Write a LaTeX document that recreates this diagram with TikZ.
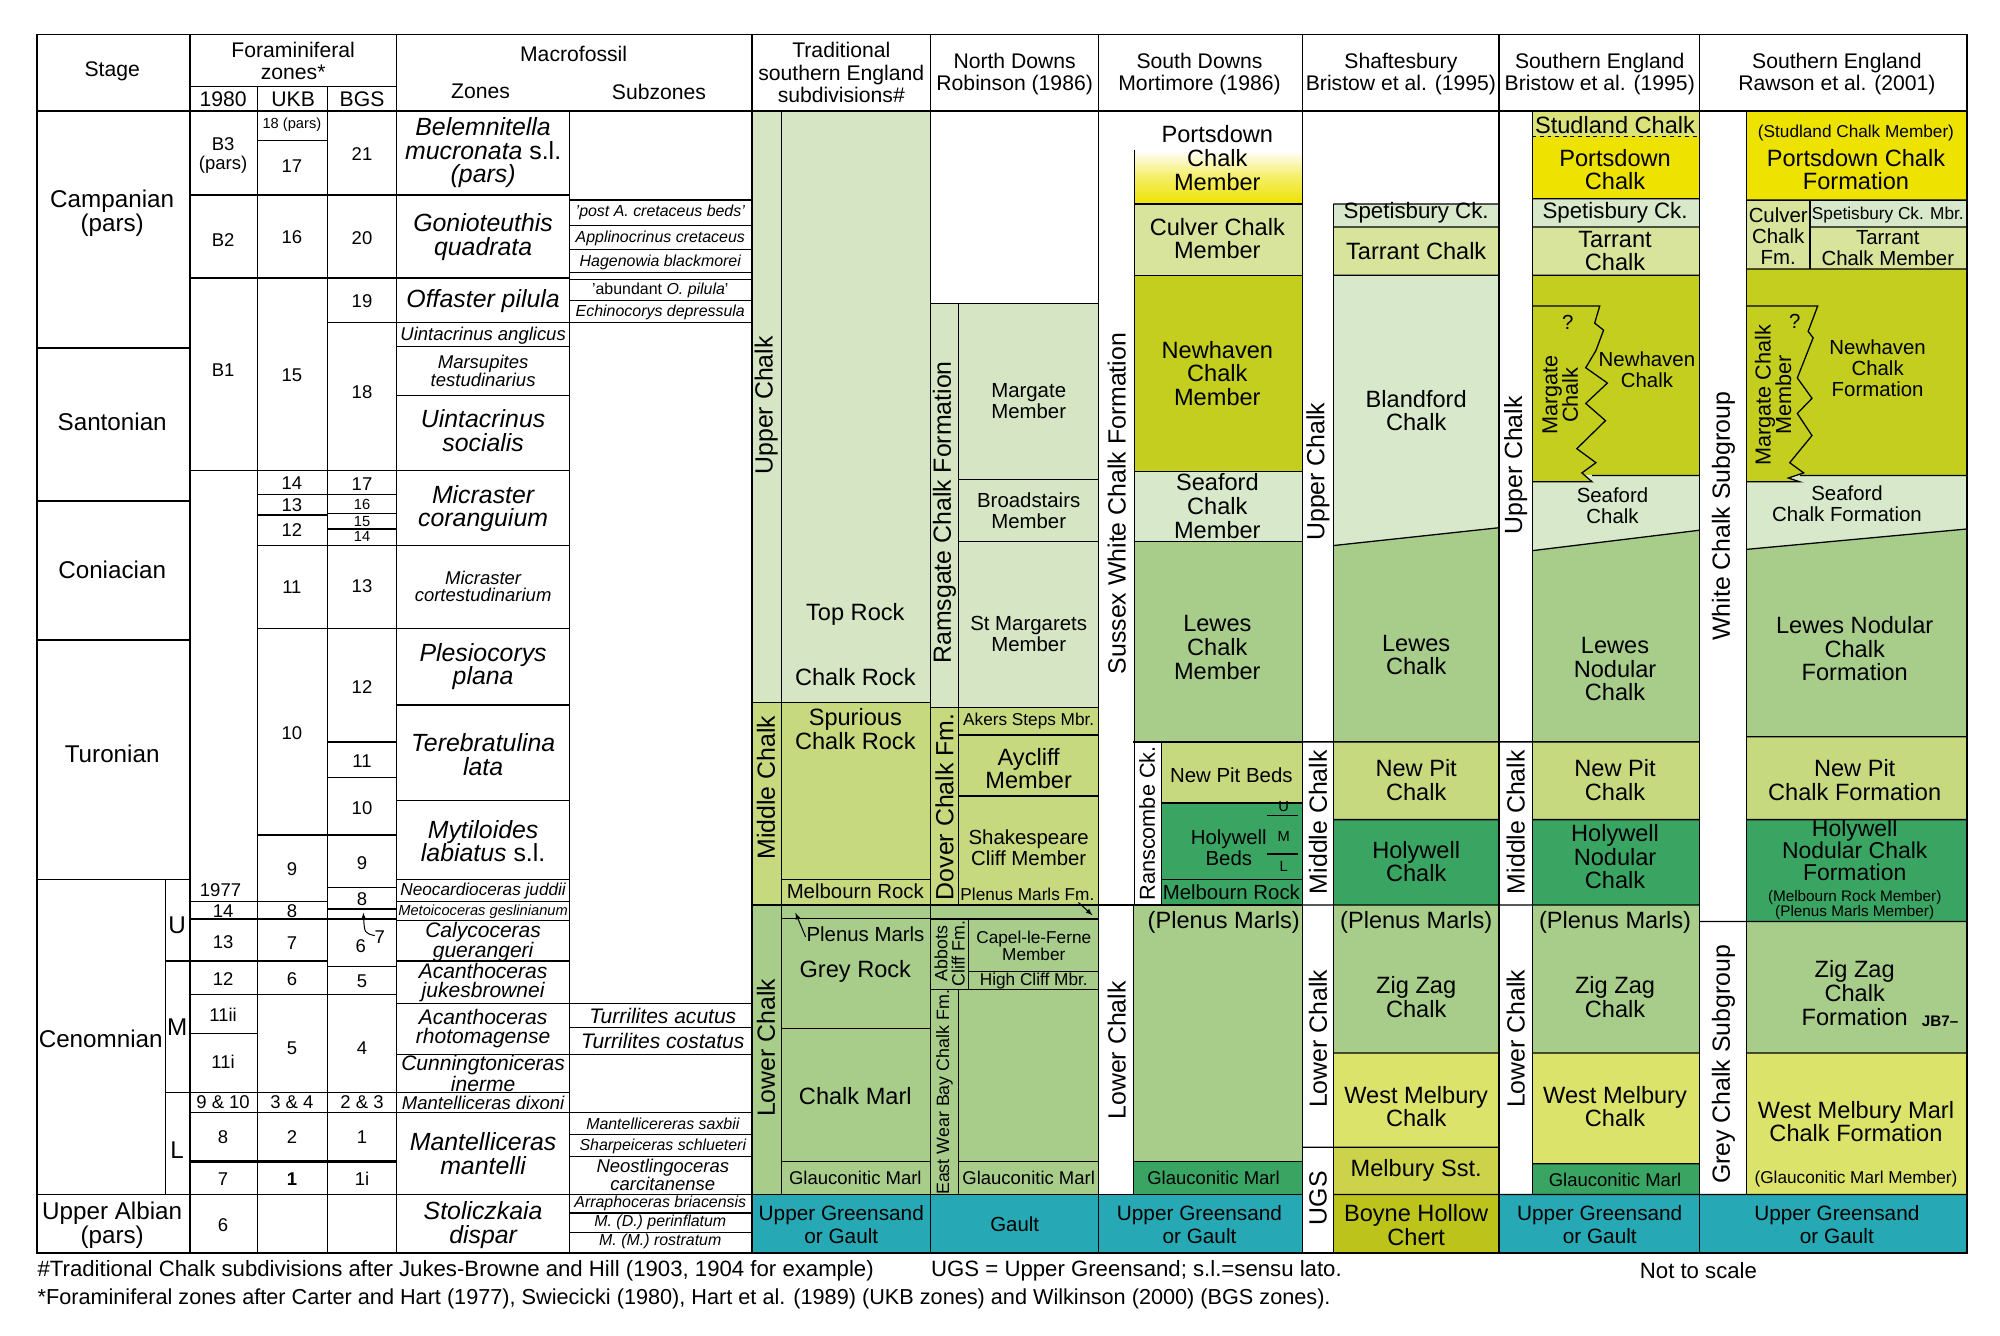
\documentclass[tikz,border=0pt]{standalone}
\usepackage{fontspec}
\setmainfont{Liberation Sans}
\definecolor{pale}{HTML}{D6E5C3}
\definecolor{midg}{HTML}{C7D97F}
\definecolor{lowg}{HTML}{A8CD8B}
\definecolor{darkg}{HTML}{3AA563}
\definecolor{teal}{HTML}{27A9B5}
\definecolor{olive}{HTML}{C3CE1F}
\definecolor{yel}{HTML}{EEE200}
\definecolor{paley}{HTML}{D8E39B}
\definecolor{lightg}{HTML}{D8E8CA}
\definecolor{wm}{HTML}{DCE36B}
\definecolor{mss}{HTML}{CCD34A}
\definecolor{boyne}{HTML}{BCC41C}
\definecolor{stud}{HTML}{DCE27A}
\begin{document}
\begin{tikzpicture}[x=1pt,y=-1pt,line width=1pt,
 L/.style={font=\fontsize{18.5}{18.5}\selectfont,align=center,inner sep=0},
 G/.style={font=\fontsize{16.3}{18}\selectfont,align=center,inner sep=0},
 H/.style={font=\fontsize{16.6}{17.5}\selectfont,align=center,inner sep=0},
 ST/.style={font=\fontsize{19}{19}\selectfont,align=center,inner sep=0},
 M/.style={font=\fontsize{16}{16.5}\selectfont,align=center,inner sep=0},
 F/.style={font=\fontsize{14.5}{15}\selectfont,align=center,inner sep=0},
 S/.style={font=\fontsize{13.5}{14}\selectfont,align=center,inner sep=0},
 T/.style={font=\fontsize{11.5}{12}\selectfont,align=center,inner sep=0},
 Z/.style={font=\fontsize{19.5}{18.5}\selectfont\itshape,align=center,inner sep=0},
 ZM/.style={font=\fontsize{16.5}{15}\selectfont\itshape,align=center,inner sep=0},
 ZS/.style={font=\fontsize{14.5}{14}\selectfont\itshape,align=center,inner sep=0},
 ZT/.style={font=\fontsize{12.5}{12}\selectfont\itshape,align=center,inner sep=0},
 N/.style={font=\fontsize{17.4}{18}\selectfont,inner sep=0},
 R/.style={rotate=90,inner sep=0,font=\fontsize{19.5}{19}\selectfont,align=center},
 RS/.style={rotate=90,inner sep=0,font=\fontsize{14}{13.5}\selectfont,align=center},
 thick line/.style={line width=2.2pt}]
\useasboundingbox (0,0) rectangle (1569,1048);
\fill[white] (0,0) rectangle (1569,1048);
% ---------- fills
\fill[pale] (590,87) rectangle (730,551);
\fill[midg] (590,551) rectangle (730,710);
\fill[lowg] (590,710) rectangle (730,937);
\fill[teal] (590,937) rectangle (730,983);
\fill[pale] (730,238) rectangle (862,555);
\fill[midg] (730,555) rectangle (862,710);
\fill[lowg] (730,710) rectangle (862,937);
\fill[teal] (730,937) rectangle (862,983);
\shade[top color=white,bottom color=yel,middle color=yel!60] (890,118) rectangle (1022,160);
\fill[paley] (890,160) rectangle (1022,216);
\fill[olive] (890,216) rectangle (1022,370);
\fill[lightg] (890,370) rectangle (1022,425);
\fill[lowg] (890,425) rectangle (1022,582);
\fill[midg] (911,582) rectangle (1022,630);
\fill[darkg] (911,630) rectangle (1022,710);
\fill[lowg] (889,710) rectangle (1022,911);
\fill[darkg] (889,911) rectangle (1022,937);
\fill[teal] (862,937) rectangle (1022,983);
\fill[lightg] (1046,160) rectangle (1176,178);
\fill[paley] (1046,178) rectangle (1176,216);
\fill[lightg] (1046,216) -- (1176,216) -- (1176,414) -- (1046,428) -- cycle;
\fill[lowg] (1046,428) -- (1176,414) -- (1176,582) -- (1046,582) -- cycle;
\fill[midg] (1046,582) rectangle (1176,643);
\fill[darkg] (1046,643) rectangle (1176,710);
\fill[lowg] (1046,710) rectangle (1176,826);
\fill[wm] (1046,826) rectangle (1176,900);
\fill[mss] (1046,900) rectangle (1176,937);
\fill[boyne] (1046,937) rectangle (1176,983);
\fill[stud] (1202,87) rectangle (1333,107);
\fill[yel] (1202,107) rectangle (1333,156);
\fill[lightg] (1202,156) rectangle (1333,178);
\fill[paley] (1202,178) rectangle (1333,216);
\fill[olive] (1202,216) rectangle (1333,373);
\fill[lightg] (1202,373) -- (1333,373) -- (1333,416) -- (1202,432) -- cycle;
\fill[lowg] (1202,432) -- (1333,416) -- (1333,582) -- (1202,582) -- cycle;
\fill[midg] (1202,582) rectangle (1333,643);
\fill[darkg] (1202,643) rectangle (1333,710);
\fill[lowg] (1202,710) rectangle (1333,826);
\fill[wm] (1202,826) rectangle (1333,913);
\fill[darkg] (1202,913) rectangle (1333,937);
\fill[teal] (1176,937) rectangle (1333,983);
\fill[yel] (1370,87) rectangle (1543,157);
\fill[paley] (1370,157) rectangle (1420,211);
\fill[lightg] (1420,157) rectangle (1543,178);
\fill[paley] (1420,178) rectangle (1543,211);
\fill[olive] (1370,211) rectangle (1543,373);
\fill[lightg] (1370,373) -- (1543,373) -- (1543,415) -- (1370,431) -- cycle;
\fill[lowg] (1370,431) -- (1543,415) -- (1543,578) -- (1370,578) -- cycle;
\fill[midg] (1370,578) rectangle (1543,643);
\fill[darkg] (1370,643) rectangle (1543,723);
\fill[lowg] (1370,723) rectangle (1543,826);
\fill[wm] (1370,826) rectangle (1543,937);
\fill[teal] (1333,937) rectangle (1543,983);
\draw[fill=olive] (1202,240) -- (1255,240) -- (1251,253.5) -- (1258,259) -- (1252,275) -- (1244,288.5) -- (1261,300.5) -- (1244,316.5) -- (1259.5,330) -- (1237,352) -- (1252,363) -- (1241,371) -- (1249,378) -- (1202,378);
\draw[fill=olive] (1370,240) -- (1426,240) -- (1418.5,260) -- (1422.4,265) -- (1410,296.5) -- (1421.5,312.5) -- (1410,324.4) -- (1421.5,341.7) -- (1404,363) -- (1415,371) -- (1403,375) -- (1412,378) -- (1370,378);
% ---------- lines
\draw[line width=1.3pt] (29,27) rectangle (1543,983);
\foreach \x in {149,311,590,730,862,1022,1176,1333} \draw (\x,27) -- (\x,983);
\foreach \x in {202,257} \draw (\x,68) -- (\x,983);
\draw (149,68) -- (311,68);
\draw (447,87) -- (447,983);
\draw (29,87) -- (1543,87);
\foreach \y in {273,393,502,690,937} \draw (29,\y) -- (149,\y);
\draw (130,690) -- (130,937);
\foreach \y in {754,857} \draw (130,\y) -- (149,\y);
\foreach \y in {153,218,369,707,721,754,780,811,857,873,937} \draw (149,\y) -- (202,\y);
\foreach \y in {110,153,218,369,388,404,428,493,655,707,721,754,780,857,873,937} \draw (202,\y) -- (257,\y);
\foreach \y in {153,218,253,369,388,403,415,428,493,582,610,655,696,713,721,758,780,857,873,937} \draw (257,\y) -- (311,\y);
\draw[thick line] (149,911) -- (311,911);
\foreach \y in {153,218,253,272,310,369,428,493,553,628,690,707,722,754,787,827,857,873,937} \draw (311,\y) -- (447,\y);
\draw (447,157) rectangle (590,214);
\draw (447,177) -- (590,177) (447,196) -- (590,196);
\draw (447,219) rectangle (590,253);
\draw (447,236) -- (590,236);
\draw (447,787) rectangle (590,827);
\draw (447,806) -- (590,806);
\foreach \y in {873,890,907,937,951.5,967} \draw (447,\y) -- (590,\y);
\draw (613,87) -- (613,937);
\draw (590,551) -- (730,551) (613,690) -- (730,690) (590,710) -- (730,710) (613,720.5) -- (730,720.5) (613,807) -- (730,807) (613,911) -- (730,911) (590,937) -- (730,937);
\draw (730,238) -- (862,238) (752,376) -- (862,376) (752,425) -- (862,425) (730,555) -- (862,555) (752,576.6) -- (862,576.6) (752,624.5) -- (862,624.5) (730,710) -- (862,710) (730,721) -- (862,721) (760,762) -- (862,762) (730,776) -- (862,776) (752,911) -- (862,911) (730,937) -- (862,937);
\draw (752,238) -- (752,710) (760,721) -- (760,776) (752,776) -- (752,937);
\draw (890,118) -- (890,710) (889,710) -- (889,937) (911,582) -- (911,710);
\draw (890,160) -- (1022,160) (890,216) -- (1022,216) (890,370) -- (1022,370) (890,425) -- (1022,425) (889,582) -- (1022,582) (911,630) -- (1022,630) (911,690) -- (1022,690) (862,710) -- (1022,710) (889,911) -- (1022,911) (862,937) -- (1022,937);
\draw (994,640) -- (1018,640) (994,670) -- (1018,670);
\draw (1046,160) -- (1046,983);
\draw (1046,160) -- (1176,160) (1046,178) -- (1176,178) (1046,216) -- (1176,216) (1046,428) -- (1176,414) (1022,582) -- (1176,582) (1046,643) -- (1176,643) (1022,710) -- (1176,710) (1046,826) -- (1176,826) (1022,900) -- (1176,900) (1046,937) -- (1176,937);
\draw (1202,87) -- (1202,937);
\draw[dashed] (1202,107) -- (1333,107);
\draw (1202,156) -- (1333,156) (1202,178) -- (1333,178) (1202,216) -- (1333,216) (1249,373) -- (1333,373) (1202,432) -- (1333,416) (1176,582) -- (1333,582) (1202,643) -- (1333,643) (1176,710) -- (1333,710) (1202,826) -- (1333,826) (1202,913) -- (1333,913) (1176,937) -- (1333,937);
\draw (1370,87) -- (1370,937) (1420,157) -- (1420,211);
\draw (1370,157) -- (1543,157) (1420,178) -- (1543,178) (1370,211) -- (1543,211) (1412,373) -- (1543,373) (1370,431) -- (1543,415) (1370,578) -- (1543,578) (1370,643) -- (1543,643) (1333,723) -- (1543,723) (1370,826) -- (1543,826) (1333,937) -- (1543,937);
\draw[-latex,line width=0.8pt] (632,735) -- (624,716);
\draw[-latex,line width=0.8pt] (846,708) -- (857,718);
\draw[-latex,line width=0.8pt] (294,734) .. controls (286,732) .. (285,716);
% ---------- header text
\node[H] at (88,56) {Stage};
\node[H] at (230,48) {Foraminiferal\\zones*};
\node[H] at (175,78) {1980};
\node[H] at (230,78) {UKB};
\node[H] at (284,78) {BGS};
\node[H] at (450,42) {Macrofossil};
\node[H] at (377,72) {Zones};
\node[H] at (517,72) {Subzones};
\node[H] at (660,57) {Traditional\\southern England\\subdivisions\#};
\node[H] at (796,58) {North Downs\\Robinson (1986)};
\node[H] at (941,58) {South Downs\\Mortimore (1986)};
\node[H] at (1099,58) {Shaftesbury\\Bristow et al. (1995)};
\node[H] at (1255,58) {Southern England\\Bristow et al. (1995)};
\node[H] at (1441,58) {Southern England\\Rawson et al. (2001)};
% stages
\node[ST] at (88,167) {Campanian\\(pars)};
\node[ST] at (88,331) {Santonian};
\node[ST] at (88,447) {Coniacian};
\node[ST] at (88,591) {Turonian};
\node[ST] at (79,815) {Cenomnian};
\node[ST] at (88,961) {Upper Albian\\(pars)};
\node[ST] at (139,726) {U};
\node[ST] at (139,806) {M};
\node[ST] at (139,902) {L};
% 1980
\node[F] at (175,122) {B3\\(pars)};
\node[F] at (175,188) {B2};
\node[F] at (175,290) {B1};
\node[F] at (173,698) {1977};
\node[F] at (175,715) {14};
\node[F] at (175,739) {13};
\node[F] at (175,768) {12};
\node[F] at (175,796) {11ii};
\node[F] at (175,833) {11i};
\node[F] at (175,865) {9 \& 10};
\node[F] at (175,892) {8};
\node[F] at (175,925) {7};
\node[F] at (175,961) {6};
% UKB
\node[T] at (229,98) {18 (pars)};
\node[F] at (229,130) {17};
\node[F] at (229,186) {16};
\node[F] at (229,294) {15};
\node[F] at (229,379) {14};
\node[F] at (229,396) {13};
\node[F] at (229,416) {12};
\node[F] at (229,461) {11};
\node[F] at (229,575) {10};
\node[F] at (229,682) {9};
\node[F] at (229,715) {8};
\node[F] at (229,740) {7};
\node[F] at (229,768) {6};
\node[F] at (229,822) {5};
\node[F] at (229,865) {3 \& 4};
\node[F] at (229,892) {2};
\node[F,font=\fontsize{14.5}{15}\selectfont\bfseries] at (229,925) {1};
% BGS
\node[F] at (284,121) {21};
\node[F] at (284,187) {20};
\node[F] at (284,236) {19};
\node[F] at (284,308) {18};
\node[F] at (284,380) {17};
\node[T] at (284,396) {16};
\node[T] at (284,409) {15};
\node[T] at (284,421) {14};
\node[F] at (284,460) {13};
\node[F] at (284,539) {12};
\node[F] at (284,597) {11};
\node[F] at (284,634) {10};
\node[F] at (284,677) {9};
\node[F] at (284,705) {8};
\node[F] at (283,742) {6};
\node[F] at (298,735) {7};
\node[F] at (284,770) {5};
\node[F] at (284,822) {4};
\node[F] at (284,865) {2 \& 3};
\node[F] at (284,892) {1};
\node[F] at (284,925) {1i};
% zones
\node[Z] at (379,120) {Belemnitella\\mucronata {\upshape s.l.}\\(pars)};
\node[Z] at (379,186) {Gonioteuthis\\quadrata};
\node[Z] at (379,236) {Offaster pilula};
\node[ZS] at (379,263) {Uintacrinus anglicus};
\node[ZS] at (379,291) {Marsupites\\testudinarius};
\node[Z] at (379,338) {Uintacrinus\\socialis};
\node[Z] at (379,399) {Micraster\\coranguium};
\node[ZS] at (379,460) {Micraster\\cortestudinarium};
\node[Z] at (379,523) {Plesiocorys\\plana};
\node[Z] at (379,592) {Terebratulina\\lata};
\node[Z] at (379,660) {Mytiloides\\labiatus {\upshape s.l.}};
\node[ZS,font=\fontsize{13.5}{14}\selectfont\itshape] at (379,699) {Neocardioceras juddii};
\node[ZT,font=\fontsize{11.5}{12}\selectfont\itshape] at (379,715) {Metoicoceras geslinianum};
\node[ZM] at (379,739) {Calycoceras\\guerangeri};
\node[ZM] at (379,771) {Acanthoceras\\jukesbrownei};
\node[ZM] at (379,807) {Acanthoceras\\rhotomagense};
\node[ZM] at (379,842) {Cunningtoniceras\\inerme};
\node[ZS] at (379,865) {Mantelliceras dixoni};
\node[Z] at (379,905) {Mantelliceras\\mantelli};
\node[Z] at (379,961) {Stoliczkaia\\dispar};
% subzones
\node[ZT] at (518,167) {'post \textit{A. cretaceus} beds'};
\node[ZT] at (518,187) {Applinocrinus cretaceus};
\node[ZT] at (518,206) {Hagenowia blackmorei};
\node[ZT] at (518,228) {{\upshape 'abundant} O. pilula{\upshape '}};
\node[ZT] at (518,245) {Echinocorys depressula};
\node[ZM] at (520,797) {Turrilites acutus};
\node[ZM] at (520,817) {Turrilites costatus};
\node[ZT] at (520,882) {Mantellicereras saxbii};
\node[ZT] at (520,899) {Sharpeiceras schlueteri};
\node[ZS] at (520,922) {Neostlingoceras\\carcitanense};
\node[ZT] at (518,944) {Arraphoceras briacensis};
\node[ZT] at (518,959) {M. (D.) perinflatum};
\node[ZT] at (518,974) {M. (M.) rostratum};
% traditional
\node[R] at (601,318) {Upper Chalk};
\node[L] at (671,482) {Top Rock};
\node[L] at (671,531) {Chalk Rock};
\node[L] at (671,572) {Spurious\\Chalk Rock};
\node[R] at (601,618) {Middle Chalk};
\node[M] at (671,699) {Melbourn Rock};
\node[M] at (679,733) {Plenus Marls};
\node[L] at (671,762) {Grey Rock};
\node[R] at (601,822) {Lower Chalk};
\node[L] at (671,860) {Chalk Marl};
\node[F] at (671,924) {Glauconitic Marl};
\node[G] at (660,961) {Upper Greensand\\or Gault};
% north downs
\node[R] at (741,402) {Ramsgate Chalk Formation};
\node[M] at (807,315) {Margate\\Member};
\node[M] at (807,401) {Broadstairs\\Member};
\node[M] at (807,497) {St Margarets\\Member};
\node[S] at (807,566) {Akers Steps Mbr.};
\node[L] at (807,603) {Aycliff\\Member};
\node[M] at (807,665) {Shakespeare\\Cliff Member};
\node[S] at (806,702) {Plenus Marls Fm.};
\node[R] at (741,633) {Dover Chalk Fm.};
\node[RS] at (745,748) {Abbots\\Cliff Fm.};
\node[S] at (811,742) {Capel-le-Ferne\\Member};
\node[S] at (811,770) {High Cliff Mbr.};
\node[RS] at (741,857) {East Wear Bay Chalk Fm.};
\node[F] at (807,924) {Glauconitic Marl};
\node[M] at (796,960) {Gault};
% south downs
\node[R] at (876,395) {Sussex White Chalk Formation};
\node[L] at (955,124) {Portsdown\\Chalk\\Member};
\node[L] at (955,187) {Culver Chalk\\Member};
\node[L] at (955,293) {Newhaven\\Chalk\\Member};
\node[L] at (955,397) {Seaford\\Chalk\\Member};
\node[L] at (955,508) {Lewes\\Chalk\\Member};
\node[R,font=\fontsize{17}{17}\selectfont] at (900,646) {Ranscombe Ck.};
\node[M] at (966,608) {New Pit Beds};
\node[M] at (964,665) {Holywell\\Beds};
\node[T] at (1007,633) {U};
\node[T] at (1007,656) {M};
\node[T] at (1007,680) {L};
\node[M] at (966,700) {Melbourn Rock};
\node[R] at (876,824) {Lower Chalk};
\node[L] at (960,724) {(Plenus Marls)};
\node[F] at (952,924) {Glauconitic Marl};
\node[G] at (941,961) {Upper Greensand\\or Gault};
% shaftesbury
\node[R] at (1034,370) {Upper Chalk};
\node[R] at (1034,645) {Middle Chalk};
\node[R] at (1034,815) {Lower Chalk};
\node[R] at (1034,940) {UGS};
\node[L,font=\fontsize{17.5}{18}\selectfont] at (1111,167) {Spetisbury Ck.};
\node[L] at (1111,197) {Tarrant Chalk};
\node[L] at (1111,322) {Blandford\\Chalk};
\node[L] at (1111,514) {Lewes\\Chalk};
\node[L] at (1111,612) {New Pit\\Chalk};
\node[L] at (1111,676) {Holywell\\Chalk};
\node[L] at (1111,724) {(Plenus Marls)};
\node[L] at (1111,782) {Zig Zag\\Chalk};
\node[L] at (1111,868) {West Melbury\\Chalk};
\node[L] at (1111,918) {Melbury Sst.};
\node[L] at (1111,961) {Boyne Hollow\\Chert};
% bristow
\node[R] at (1189,365) {Upper Chalk};
\node[R] at (1189,645) {Middle Chalk};
\node[R] at (1189,815) {Lower Chalk};
\node[L] at (1267,98) {Studland Chalk};
\node[L] at (1267,133) {Portsdown\\Chalk};
\node[L,font=\fontsize{17.5}{18}\selectfont] at (1267,167) {Spetisbury Ck.};
\node[L] at (1267,197) {Tarrant\\Chalk};
\node[R,font=\fontsize{17}{16}\selectfont] at (1224,310) {Margate\\Chalk};
\node[M] at (1230,253) {?};
\node[M] at (1292,290) {Newhaven\\Chalk};
\node[M] at (1265,397) {Seaford\\Chalk};
\node[L] at (1267,525) {Lewes\\Nodular\\Chalk};
\node[L] at (1267,612) {New Pit\\Chalk};
\node[L] at (1267,672) {Holywell\\Nodular\\Chalk};
\node[L] at (1267,724) {(Plenus Marls)};
\node[L] at (1267,782) {Zig Zag\\Chalk};
\node[L] at (1267,868) {West Melbury\\Chalk};
\node[F] at (1267,926) {Glauconitic Marl};
\node[G] at (1255,961) {Upper Greensand\\or Gault};
% rawson
\node[R] at (1352,405) {White Chalk Subgroup};
\node[R] at (1352,835) {Grey Chalk Subgroup};
\node[S] at (1456,104) {(Studland Chalk Member)};
\node[L] at (1456,133) {Portsdown Chalk\\Formation};
\node[M] at (1395,185) {Culver\\Chalk\\Fm.};
\node[S] at (1481,169) {Spetisbury Ck. Mbr.};
\node[M] at (1481,195) {Tarrant\\Chalk Member};
\node[R,font=\fontsize{17}{16}\selectfont] at (1391,310) {Margate Chalk\\Member};
\node[M] at (1408,252) {?};
\node[M] at (1473,289) {Newhaven\\Chalk\\Formation};
\node[M] at (1449,395) {Seaford\\Chalk Formation};
\node[L] at (1455,509) {Lewes Nodular\\Chalk\\Formation};
\node[L] at (1455,612) {New Pit\\Chalk Formation};
\node[L,font=\fontsize{18}{17}\selectfont] at (1455,667) {Holywell\\Nodular Chalk\\Formation};
\node[T,font=\fontsize{12}{11.5}\selectfont] at (1455,710) {(Melbourn Rock Member)\\(Plenus Marls Member)};
\node[L] at (1455,779) {Zig Zag\\Chalk\\Formation};
\node[T,font=\fontsize{12}{12}\selectfont\bfseries] at (1522,801) {JB7--};
\node[L] at (1456,880) {West Melbury Marl\\Chalk Formation};
\node[S] at (1456,925) {(Glauconitic Marl Member)};
\node[G] at (1441,961) {Upper Greensand\\or Gault};
% footnotes
\node[N,anchor=west] at (29,997) {\#Traditional Chalk subdivisions after Jukes-Browne and Hill (1903, 1904 for example)};
\node[N,anchor=west] at (730,997) {UGS = Upper Greensand; s.l.=sensu lato.};
\node[N,anchor=west] at (1286,997) {Not to scale};
\node[N,anchor=west,font=\fontsize{17}{18}\selectfont] at (29,1019) {*Foraminiferal zones after Carter and Hart (1977), Swiecicki (1980), Hart et al. (1989) (UKB zones) and Wilkinson (2000) (BGS zones).};
\end{tikzpicture}
\end{document}
